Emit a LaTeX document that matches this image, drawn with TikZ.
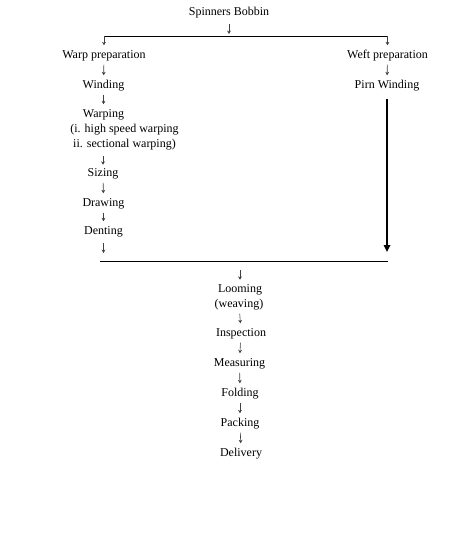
\documentclass[tikz,border=0pt]{standalone}
\usepackage{fontspec}
\setmainfont{Liberation Serif}
\usetikzlibrary{arrows.meta,calc}
\begin{document}
\begin{tikzpicture}[x=1bp,y=-1bp,
  lbl/.style={inner sep=0pt,text height=10bp,text depth=1.1bp,font=\fontsize{12bp}{15bp}\selectfont},
  flow/.style={draw=black!75,line width=0.6bp,-{Stealth[length=3.4bp,width=3.8bp]},shorten <=5bp,shorten >=3bp},
  rail/.style={draw=black,line width=0.9bp},
  heavy/.style={draw=black,line width=1.6bp,-{Triangle[length=7bp,width=6.5bp]}}]
\useasboundingbox (0,0) rectangle (460,559);
% nodes
\node[lbl] (sb) at (229,11) {Spinners Bobbin};
\node[lbl] (warp) at (104,54) {Warp preparation};
\node[lbl] (weft) at (387.5,54) {Weft preparation};
\node[lbl] (wind) at (103.5,84) {Winding};
\node[lbl] (pirn) at (387,84) {Pirn Winding};
\node[lbl] (warping) at (103.5,113) {Warping};
\node[lbl,align=center,font=\fontsize{12bp}{15bp}\selectfont,text height=,text depth=,yshift=-1.5bp] (warpdet) at (124.5,135.5) {(i. high speed warping\\ii. sectional warping)};
\node[lbl] (sizing) at (103,172) {Sizing};
\node[lbl] (drawing) at (103.5,202) {Drawing};
\node[lbl] (denting) at (103.5,230) {Denting};
\node[lbl] (looming) at (240,288) {Looming};
\node[lbl] (weaving) at (239,303) {(weaving)};
\node[lbl] (inspect) at (241,332) {Inspection};
\node[lbl] (measure) at (239.5,362) {Measuring};
\node[lbl] (fold) at (240,392) {Folding};
\node[lbl] (pack) at (240,422) {Packing};
\node[lbl] (deliv) at (241,452) {Delivery};
% junctions
\coordinate (splitL) at (104,36);
\coordinate (splitR) at (387,36);
\coordinate (joinL) at (100,261);
\coordinate (joinR) at (388,261);
% top split
\draw[flow,shorten <=7bp,shorten >=2bp] (sb) -- (sb |- splitL);
\draw[rail] (splitL) -- (splitR);
\draw[flow,shorten <=0bp,shorten >=3bp] (warp |- splitL) -- (warp);
\draw[flow,shorten <=0bp,shorten >=3bp] (weft |- splitR) -- (weft);
% warp column
\draw[flow] (warp) -- (wind);
\draw[flow] (wind) -- (warping);
\draw[flow,shorten <=6bp,shorten >=1.5bp] (warpdet.south -| sizing.north) -- (sizing.north);
\draw[flow] (sizing) -- (drawing);
\draw[flow] (drawing) -- (denting);
\draw[flow,shorten <=7.5bp,shorten >=8bp] (denting) -- (denting |- joinL);
% weft column
\draw[flow] (weft) -- (pirn);
\draw[heavy,shorten <=9.5bp,shorten >=9bp] (pirn) -- (pirn |- joinR);
% merge
\draw[rail] (joinL) -- (joinR);
\draw[flow,shorten <=9bp,shorten >=2.5bp] (looming |- joinL) -- (looming);
% finishing column
\draw[flow] (weaving) -- (inspect);
\draw[flow] (inspect) -- (measure);
\draw[flow] (measure) -- (fold);
\draw[flow] (fold) -- (pack);
\draw[flow] (pack) -- (deliv);
\end{tikzpicture}
\end{document}
